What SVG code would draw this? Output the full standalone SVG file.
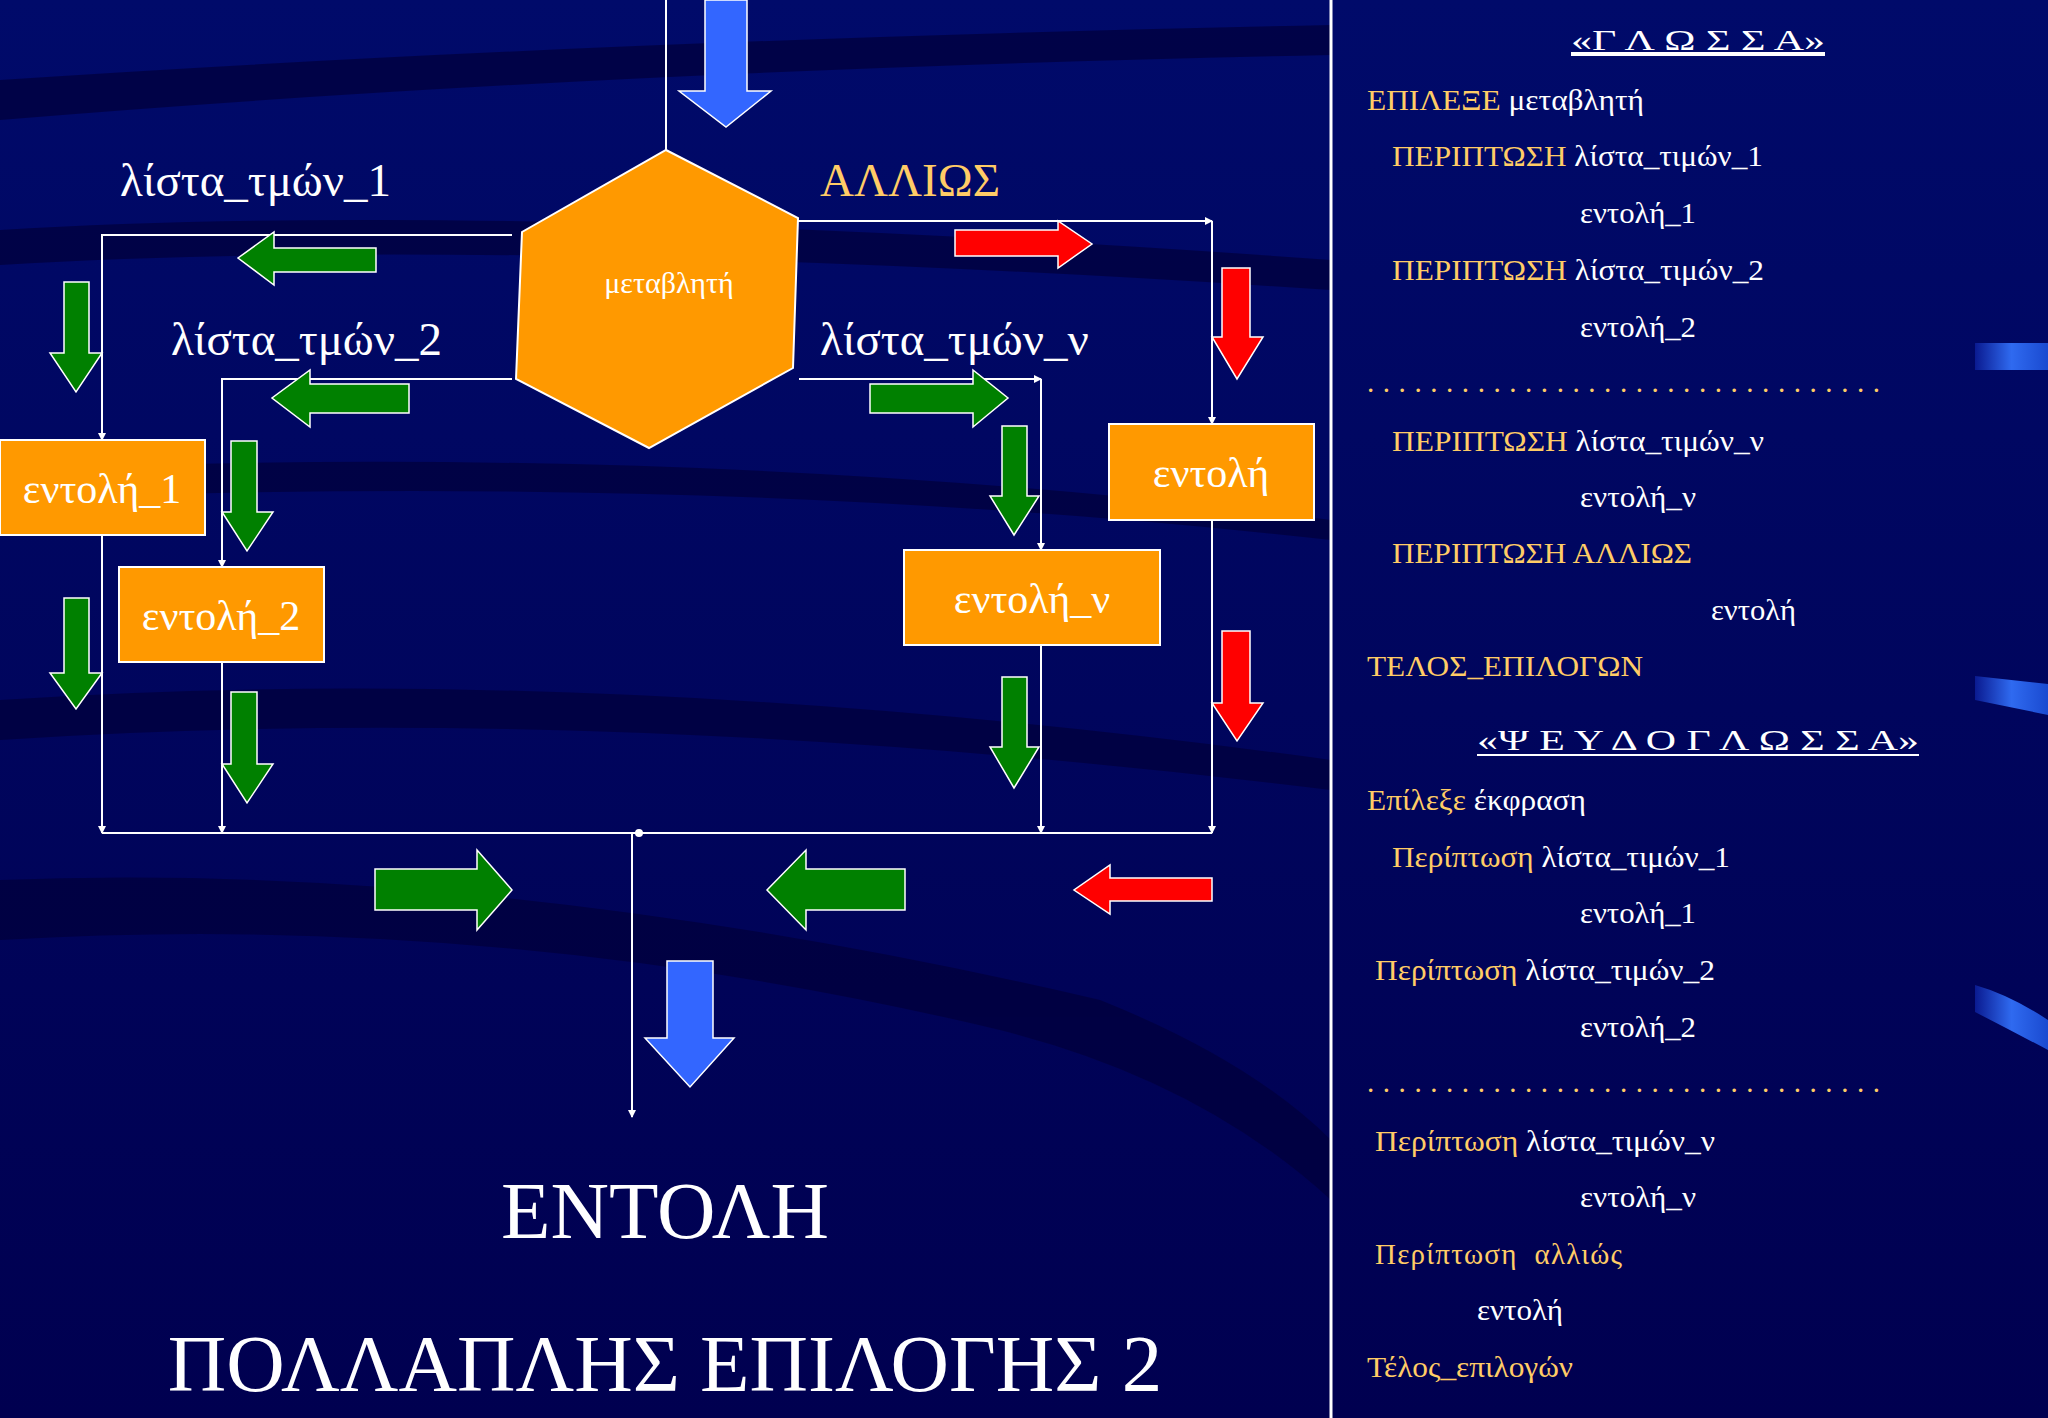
<svg xmlns="http://www.w3.org/2000/svg" width="2048" height="1418" viewBox="0 0 2048 1418">
<defs>
<linearGradient id="bg" x1="0" y1="0" x2="0" y2="1"><stop offset="0" stop-color="#000a6a"/><stop offset="1" stop-color="#000050"/></linearGradient>
<linearGradient id="hl" x1="0" y1="0" x2="1" y2="0"><stop offset="0" stop-color="#0a1a90"/><stop offset="0.5" stop-color="#2f6af0"/><stop offset="1" stop-color="#1a4ad0"/></linearGradient>
<marker id="ah" markerWidth="8" markerHeight="8" refX="7" refY="4" orient="auto" markerUnits="userSpaceOnUse"><path d="M0,0 L8,4 L0,8 Z" fill="#fff"/></marker>
<style>
.ln{stroke:#fff;stroke-width:2;fill:none}
.box{fill:#ff9900;stroke:#fff;stroke-width:2}
.bt{font-family:"Liberation Serif",serif;fill:#fff;text-anchor:middle}
.lb{font-family:"Liberation Serif",serif;fill:#fff;font-size:47px}
.g{fill:#008000;stroke:#fff;stroke-width:1.5}
.r{fill:#ff0000;stroke:#fff;stroke-width:1.5}
.b{fill:#3366ff;stroke:#fff;stroke-width:1.5}
.t{font-family:"Liberation Serif",serif;font-size:29px;fill:#fff}
.o{fill:#ffcc66}
</style>
</defs>
<rect width="2048" height="1418" fill="url(#bg)"/>
<g fill="#00003a" opacity="0.7">
<path d="M0,80 Q600,40 1331,25 L1331,55 Q600,70 0,120 Z"/>
<path d="M0,230 Q500,200 1331,260 L1331,290 Q500,235 0,265 Z"/>
<path d="M0,470 Q700,440 1331,520 L1331,540 Q700,470 0,500 Z"/>
<path d="M0,700 Q600,660 1331,760 L1331,790 Q600,700 0,740 Z"/>
<path d="M0,880 Q500,860 1100,1000 Q1250,1060 1331,1140 L1331,1200 Q1200,1080 1000,1030 Q500,910 0,940 Z"/>
</g>
<path d="M1975,343 L2048,343 L2048,370 L1975,370 Z" fill="url(#hl)"/>
<path d="M1975,676 L2048,684 L2048,715 L1975,700 Z" fill="url(#hl)"/>
<path d="M1975,985 Q2010,995 2048,1020 L2048,1050 Q2010,1030 1975,1012 Z" fill="url(#hl)"/>
<line x1="1331" y1="0" x2="1331" y2="1418" stroke="#fff" stroke-width="3"/>

<g id="connectors">
<line class="ln" x1="666" y1="0" x2="666" y2="150"/>
<path class="ln" d="M512,235 H102 V440" marker-end="url(#ah)"/>
<path class="ln" d="M512,379 H222 V567" marker-end="url(#ah)"/>
<path class="ln" d="M798,221 H1212" marker-end="url(#ah)"/>
<path class="ln" d="M1212,221 V424" marker-end="url(#ah)"/>
<path class="ln" d="M799,379 H1041" marker-end="url(#ah)"/>
<path class="ln" d="M1041,379 V550" marker-end="url(#ah)"/>
<line class="ln" x1="102" y1="535" x2="102" y2="833" marker-end="url(#ah)"/>
<line class="ln" x1="222" y1="662" x2="222" y2="833" marker-end="url(#ah)"/>
<line class="ln" x1="1041" y1="645" x2="1041" y2="833" marker-end="url(#ah)"/>
<line class="ln" x1="1212" y1="520" x2="1212" y2="833" marker-end="url(#ah)"/>
<line class="ln" x1="102" y1="833" x2="1212" y2="833"/>
<circle cx="639" cy="833" r="4" fill="#fff"/>
<line class="ln" x1="632" y1="833" x2="632" y2="1117" marker-end="url(#ah)"/>
</g>

<g id="decision">
<polygon points="666,150 798,218 793,368 649,448 516,379 522,232" fill="#ff9900" stroke="#fff" stroke-width="2"/>
<text class="bt" x="669" y="293" font-size="30">μεταβλητή</text>
</g>
<g id="entoli1"><rect class="box" x="0" y="440" width="205" height="95"/><text class="bt" x="102" y="503" font-size="42">εντολή_1</text></g>
<g id="entoli2"><rect class="box" x="119" y="567" width="205" height="95"/><text class="bt" x="221" y="630" font-size="42">εντολή_2</text></g>
<g id="entoliv"><rect class="box" x="904" y="550" width="256" height="95"/><text class="bt" x="1032" y="613" font-size="42">εντολή_ν</text></g>
<g id="entoli"><rect class="box" x="1109" y="424" width="205" height="96"/><text class="bt" x="1211" y="487" font-size="42">εντολή</text></g>

<g id="labels">
<text class="lb" x="120" y="196">λίστα_τμών_1</text>
<text class="lb" x="820" y="196" fill="#ffcc66" style="fill:#ffcc66">ΑΛΛΙΩΣ</text>
<text class="lb" x="171" y="355">λίστα_τμών_2</text>
<text class="lb" x="820" y="355">λίστα_τμών_ν</text>
<text class="bt" x="665" y="1238" font-size="81">ΕΝΤΟΛΗ</text>
<text class="bt" x="665" y="1391" font-size="81">ΠΟΛΛΑΠΛΗΣ ΕΠΙΛΟΓΗΣ 2</text>
</g>

<g id="block-arrows">
<polygon class="b" points="705,0 747,0 747,91 771,91 726,127 679,91 705,91"/>
<polygon class="g" points="376,248 274,248 274,232 238,258 274,285 274,272 376,272"/>
<polygon class="g" points="64,282 89,282 89,353 102,353 76,392 50,353 64,353"/>
<polygon class="g" points="409,384 310,384 310,370 272,398 310,427 310,413 409,413"/>
<polygon class="g" points="231,441 257,441 257,512 273,512 247,551 222,512 231,512"/>
<polygon class="g" points="64,598 89,598 89,673 102,673 76,709 50,673 64,673"/>
<polygon class="g" points="231,692 257,692 257,764 273,764 247,803 222,764 231,764"/>
<polygon class="g" points="870,384 973,384 973,370 1008,398 973,427 973,413 870,413"/>
<polygon class="g" points="1002,426 1027,426 1027,496 1039,496 1014,535 990,496 1002,496"/>
<polygon class="g" points="1002,677 1027,677 1027,747 1039,747 1014,788 990,747 1002,747"/>
<polygon class="r" points="955,230 1058,230 1058,221 1092,244 1058,268 1058,256 955,256"/>
<polygon class="r" points="1222,268 1250,268 1250,337 1263,337 1237,379 1212,337 1222,337"/>
<polygon class="r" points="1222,631 1250,631 1250,703 1263,703 1237,741 1212,703 1222,703"/>
<polygon class="g" points="375,869 477,869 477,850 512,890 477,930 477,910 375,910"/>
<polygon class="g" points="905,869 806,869 806,850 767,890 806,930 806,910 905,910"/>
<polygon class="r" points="1212,878 1110,878 1110,865 1074,890 1110,914 1110,901 1212,901"/>
<polygon class="b" points="667,961 713,961 713,1038 734,1038 690,1087 645,1038 667,1038"/>
</g>

<g id="code">
<text class="t" x="1571" y="50" font-size="34" textLength="254" lengthAdjust="spacingAndGlyphs" text-decoration="underline">«Γ Λ Ω Σ Σ Α»</text>
<line x1="1571" y1="55" x2="1825" y2="55" stroke="#fff" stroke-width="2"/>
<text class="t" x="1367" y="110" textLength="277" lengthAdjust="spacingAndGlyphs"><tspan class="o">ΕΠΙΛΕΞΕ</tspan> μεταβλητή</text>
<text class="t" x="1392" y="166" textLength="371" lengthAdjust="spacingAndGlyphs"><tspan class="o">ΠΕΡΙΠΤΩΣΗ</tspan> λίστα_τιμών_1</text>
<text class="t" x="1580" y="223" textLength="116" lengthAdjust="spacingAndGlyphs">εντολή_1</text>
<text class="t" x="1392" y="280" textLength="372" lengthAdjust="spacingAndGlyphs"><tspan class="o">ΠΕΡΙΠΤΩΣΗ</tspan> λίστα_τιμών_2</text>
<text class="t" x="1580" y="337" textLength="116" lengthAdjust="spacingAndGlyphs">εντολή_2</text>
<text class="t o" x="1367" y="392" textLength="513" lengthAdjust="spacing">. . . . . . . . . . . . . . . . . . . . . . . . . . . . . . . . .</text>
<text class="t" x="1392" y="451" textLength="372" lengthAdjust="spacingAndGlyphs"><tspan class="o">ΠΕΡΙΠΤΩΣΗ</tspan> λίστα_τιμών_ν</text>
<text class="t" x="1580" y="507" textLength="116" lengthAdjust="spacingAndGlyphs">εντολή_ν</text>
<text class="t o" x="1392" y="563" textLength="300" lengthAdjust="spacingAndGlyphs">ΠΕΡΙΠΤΩΣΗ ΑΛΛΙΩΣ</text>
<text class="t" x="1711" y="620" textLength="85" lengthAdjust="spacingAndGlyphs">εντολή</text>
<text class="t o" x="1367" y="676" textLength="276" lengthAdjust="spacingAndGlyphs">ΤΕΛΟΣ_ΕΠΙΛΟΓΩΝ</text>
<text class="t" x="1477" y="750" font-size="34" textLength="442" lengthAdjust="spacingAndGlyphs">«Ψ Ε Υ Δ Ο Γ Λ Ω Σ Σ Α»</text>
<line x1="1477" y1="755" x2="1919" y2="755" stroke="#fff" stroke-width="2"/>
<text class="t" x="1367" y="810" textLength="219" lengthAdjust="spacingAndGlyphs"><tspan class="o">Επίλεξε</tspan> έκφραση</text>
<text class="t" x="1392" y="867" textLength="338" lengthAdjust="spacingAndGlyphs"><tspan class="o">Περίπτωση</tspan> λίστα_τιμών_1</text>
<text class="t" x="1580" y="923" textLength="116" lengthAdjust="spacingAndGlyphs">εντολή_1</text>
<text class="t" x="1375" y="980" textLength="340" lengthAdjust="spacingAndGlyphs"><tspan class="o">Περίπτωση</tspan> λίστα_τιμών_2</text>
<text class="t" x="1580" y="1037" textLength="116" lengthAdjust="spacingAndGlyphs">εντολή_2</text>
<text class="t o" x="1367" y="1092" textLength="513" lengthAdjust="spacing">. . . . . . . . . . . . . . . . . . . . . . . . . . . . . . . . .</text>
<text class="t" x="1375" y="1151" textLength="340" lengthAdjust="spacingAndGlyphs"><tspan class="o">Περίπτωση</tspan> λίστα_τιμών_ν</text>
<text class="t" x="1580" y="1207" textLength="116" lengthAdjust="spacingAndGlyphs">εντολή_ν</text>
<text class="t o" x="1375" y="1264" textLength="247" lengthAdjust="spacing" xml:space="preserve">Περίπτωση  αλλιώς</text>
<text class="t" x="1477" y="1320" textLength="86" lengthAdjust="spacingAndGlyphs">εντολή</text>
<text class="t o" x="1367" y="1377" textLength="206" lengthAdjust="spacingAndGlyphs">Τέλος_επιλογών</text>
</g>
</svg>
